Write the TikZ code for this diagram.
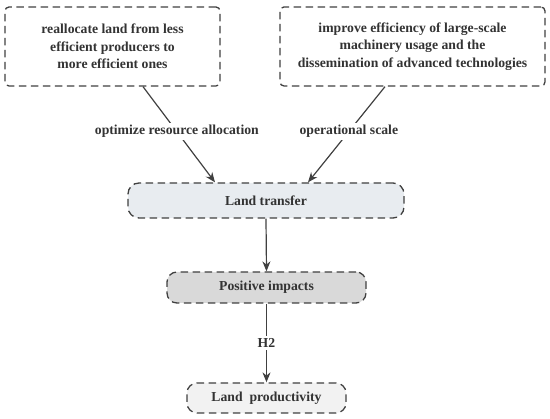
\documentclass[tikz,border=0pt]{standalone}
\usepackage{fontspec}
\setmainfont{Liberation Serif}
\usetikzlibrary{arrows.meta}
\usetikzlibrary{calc}

\definecolor{linegray}{HTML}{404040}
\definecolor{textgray}{HTML}{333333}
\definecolor{transferfill}{HTML}{E8ECF0}
\definecolor{impactfill}{HTML}{D9D9D9}
\definecolor{prodfill}{HTML}{F2F2F2}

\tikzset{
  dashbox/.style={draw=linegray, line width=1.3pt, dash pattern=on 7.5pt off 4.5pt,
    align=center, text=textgray, font=\fontsize{13.7}{17.5}\selectfont\bfseries,
    inner sep=0pt},
  link/.style={draw=linegray, line width=1.2pt, -{Stealth[length=10pt,width=8pt]}},
  tag/.style={fill=white, text=textgray, font=\fontsize{13.7}{15}\selectfont\bfseries,
    inner sep=2pt}
}

\begin{document}
\begin{tikzpicture}[x=1pt,y=-1pt]
        \useasboundingbox (0,0) rectangle (550,419);

        %% top boxes
        \node[dashbox, rounded corners=4pt, minimum width=215pt, minimum height=79pt]
          (realloc) at (112.5,46.5)
          {reallocate land from less\\efficient producers to\\more efficient ones};
        \node[dashbox, rounded corners=4pt, minimum width=265pt, minimum height=79pt]
          (improve) at (412.5,46.5)
          {improve efficiency of large-scale\\machinery usage and the\\dissemination of advanced technologies};

        %% middle and bottom boxes
        \node[dashbox, fill=transferfill, rounded corners=11pt, minimum width=276pt, minimum height=35pt]
          (transfer) at (266,200.5) {Land transfer};
        \node[dashbox, fill=impactfill, rounded corners=10pt, minimum width=199pt, minimum height=31pt]
          (impact) at (266.5,287.5) {Positive impacts};
        \node[dashbox, fill=prodfill, rounded corners=10pt, minimum width=159pt, minimum height=30pt]
          (prod) at (266.5,398) {Land~~productivity};

        %% connectors
        \draw[link] ([xshift=30.5pt]realloc.south) -- ([xshift=-51pt]transfer.north)
          node[tag, pos=0.47] {optimize resource allocation};
        \draw[link] ([xshift=-27.5pt]improve.south) -- ([xshift=42pt]transfer.north)
          node[tag, pos=0.47] {operational scale};
        \draw[link] (transfer.south) -- (impact.north);
        \draw[link] (impact.south) -- (prod.north)
          node[tag, midway] {H2};
\end{tikzpicture}
\end{document}
